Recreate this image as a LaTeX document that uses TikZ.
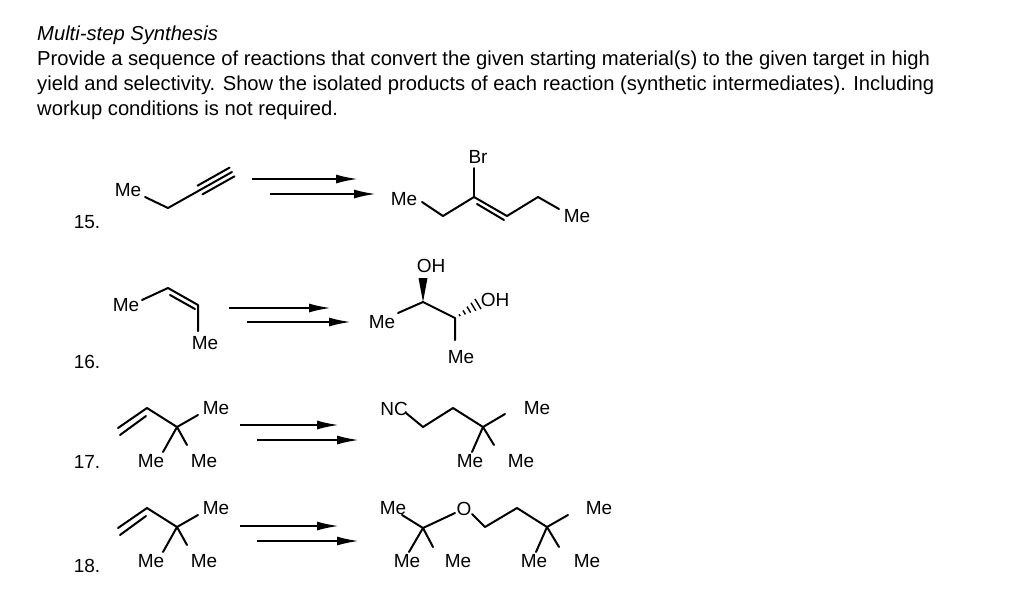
\documentclass[tikz,border=0pt]{standalone}
\usepackage{fontspec}
\setmainfont{Liberation Sans}
\usetikzlibrary{arrows.meta,calc}
\begin{document}
\begin{tikzpicture}[x=1pt,y=-1pt,
  bd/.style={line width=2pt,line cap=round,line join=round},
  rx/.style={line width=2pt,-{Latex[length=22pt,width=9pt]}},
  lab/.style={inner sep=0pt,font=\fontsize{19}{22}\selectfont},
  txt/.style={inner sep=0pt,anchor=base west,font=\fontsize{20.2}{24}\selectfont}]
\useasboundingbox (0,0) rectangle (1024,595);
% header
\node[txt] (t0) at (37,40) {\itshape Multi-step Synthesis};
\node[txt] (t1) at (37,65) {Provide a sequence of reactions that convert the given starting material(s) to the given target in high};
\node[txt] (t2) at (37,90) {yield and selectivity. Show the isolated products of each reaction (synthetic intermediates). Including};
\node[txt] (t3) at (37,115) {workup conditions is not required.};
% numbers
\node[lab] (n15) at (87,222) {15.};
\node[lab] (n16) at (87,362) {16.};
\node[lab] (n17) at (87,462) {17.};
\node[lab] (n18) at (87,566) {18.};
% ---- 15
\node[lab] (a1) at (128,190) {Me};
\draw[bd] (145,197) -- (168,208) -- (200,190);
\draw[bd] (200,190) -- (232,172);
\draw[bd] ($(200,190)!5pt!90:(232,172)$) -- ($(232,172)!5pt!-90:(200,190)$);
\draw[bd] ($(200,190)!5pt!-90:(232,172)$) -- ($(232,172)!5pt!90:(200,190)$);
\draw[rx] (252,179) -- (358,179);
\draw[rx] (270,194) -- (376,194);
\node[lab] (b1) at (404,199) {Me};
\node[lab] (b2) at (478,157) {Br};
\node[lab] (b3) at (577,216) {Me};
\draw[bd] (422,202) -- (443,216) -- (474,197) -- (507,216) -- (538,197) -- (559,209);
\draw[bd] (474,197) -- (474,168);
\draw[bd] (477,204) -- (504,220);
% ---- 16
\node[lab] (c1) at (126,305) {Me};
\node[lab] (c2) at (205,343) {Me};
\draw[bd] (142,300) -- (168,288) -- (198,305) -- (198,331);
\draw[bd] (170,295) -- (195,309);
\draw[rx] (229,308) -- (331,308);
\draw[rx] (247,322) -- (351,322);
\node[lab] (d1) at (382,322) {Me};
\node[lab] (d2) at (431,266) {OH};
\node[lab] (d3) at (495,300) {OH};
\node[lab] (d4) at (461,357) {Me};
\draw[bd] (398,313) -- (423,302) -- (455,318) -- (455,340);
\fill (423,302) -- (418.5,278) -- (427.5,278) -- cycle;
\foreach \t in {0.2,0.4,0.6,0.8,1.0}
  \draw[line width=1.4pt] ($(455,318)!\t!(478,304)+(-3*\t,-5*\t)$) -- ($(455,318)!\t!(478,304)+(3*\t,5*\t)$);
% ---- 17
\node[lab] (e1) at (216,408) {Me};
\node[lab] (e2) at (151,461) {Me};
\node[lab] (e3) at (204,461) {Me};
\draw[bd] (118,428) -- (147,408) -- (177,427);
\draw[bd] (120,435) -- (146,416);
\draw[bd] (177,427) -- (198,415);
\draw[bd] (177,427) -- (163,452);
\draw[bd] (177,427) -- (187,445);
\draw[rx] (240,425) -- (339,425);
\draw[rx] (257,440) -- (359,440);
\node[lab] (f1) at (394,409) {NC};
\node[lab] (f2) at (537,408) {Me};
\node[lab] (f3) at (470,461) {Me};
\node[lab] (f4) at (521,461) {Me};
\draw[bd] (406,413) -- (423,427) -- (453,408) -- (483,427);
\draw[bd] (483,427) -- (505,414);
\draw[bd] (483,427) -- (472,452);
\draw[bd] (483,427) -- (494,445);
% ---- 18
\node[lab] (g1) at (216,508) {Me};
\node[lab] (g2) at (151,561) {Me};
\node[lab] (g3) at (204,561) {Me};
\draw[bd] (118,528) -- (147,508) -- (177,527);
\draw[bd] (120,535) -- (146,516);
\draw[bd] (177,527) -- (198,515);
\draw[bd] (177,527) -- (163,552);
\draw[bd] (177,527) -- (187,545);
\draw[rx] (240,526) -- (339,526);
\draw[rx] (257,541) -- (359,541);
\node[lab] (h1) at (393,508) {Me};
\node[lab] (h2) at (464,509) {O};
\node[lab] (h3) at (407,561) {Me};
\node[lab] (h4) at (458,561) {Me};
\node[lab] (h5) at (599,508) {Me};
\node[lab] (h6) at (534,561) {Me};
\node[lab] (h7) at (587,561) {Me};
\draw[bd] (402,515) -- (423,528) -- (455,513);
\draw[bd] (423,528) -- (409,552);
\draw[bd] (423,528) -- (433,547);
\draw[bd] (472,514) -- (485,527) -- (517,508) -- (547,527) -- (568,515);
\draw[bd] (547,527) -- (536,552);
\draw[bd] (547,527) -- (559,547);
\end{tikzpicture}
\end{document}
